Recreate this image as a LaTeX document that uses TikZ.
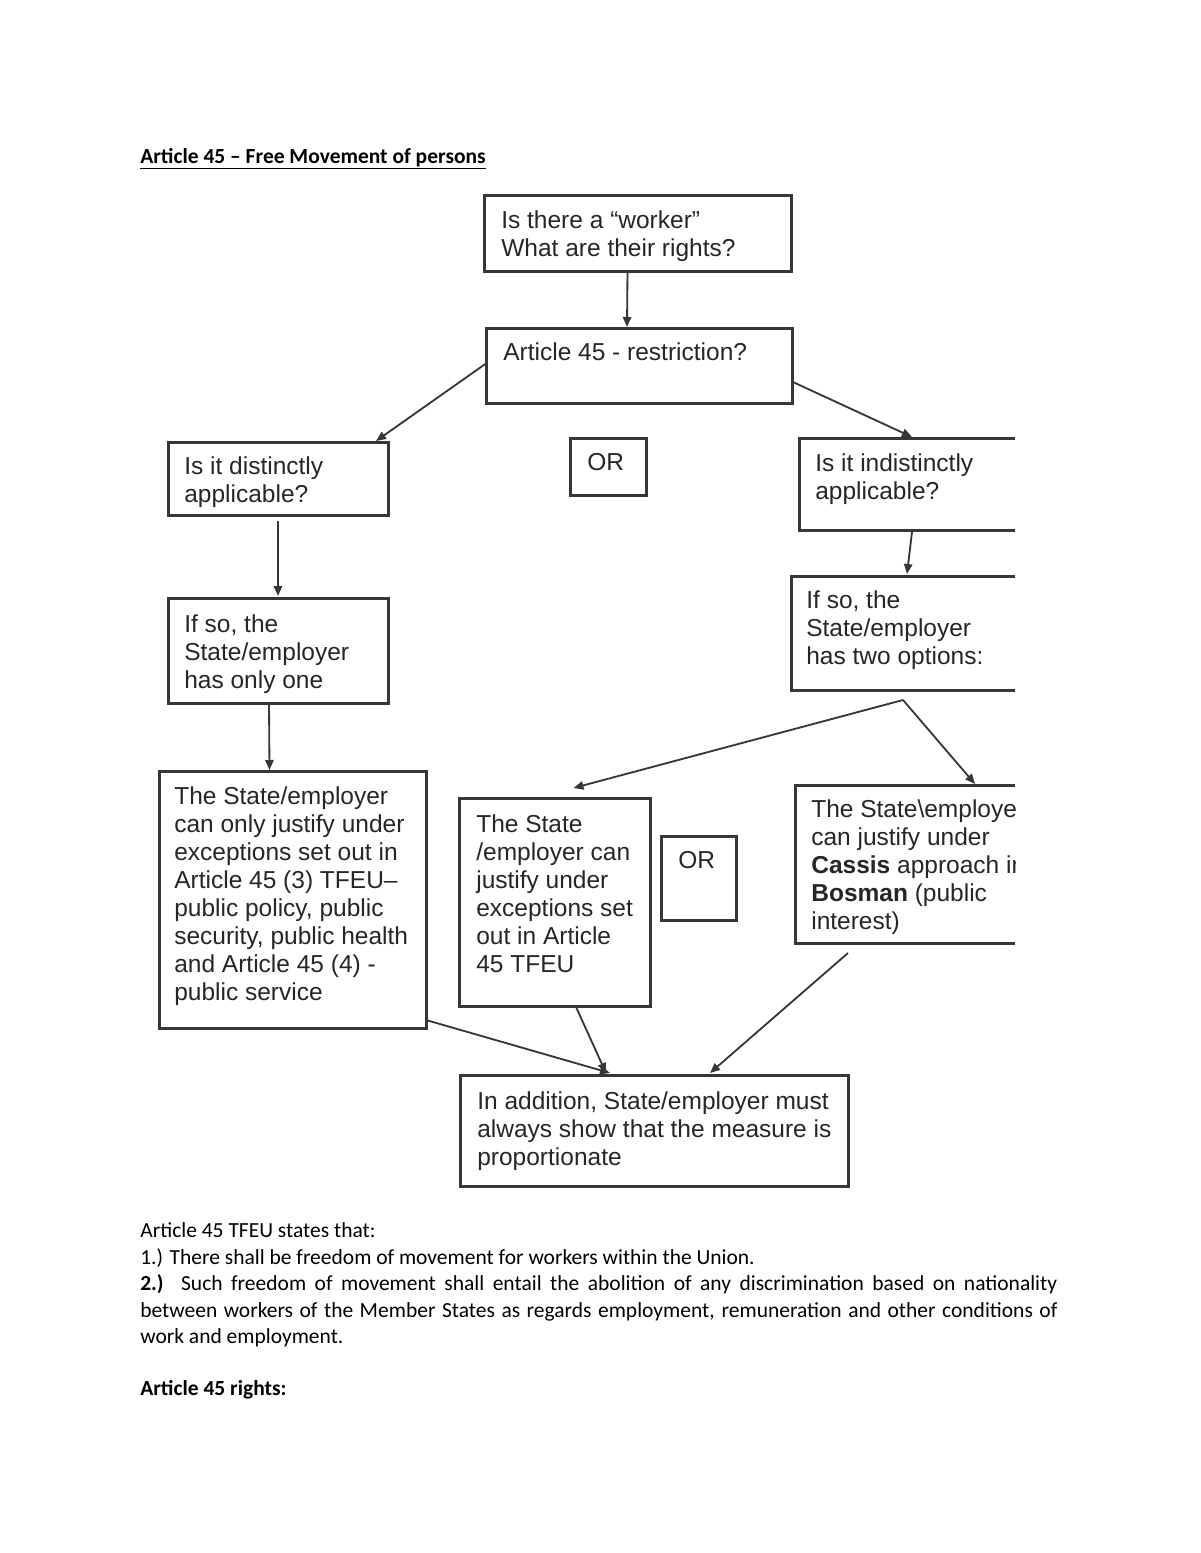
\documentclass[tikz,border=0pt]{standalone}
\usepackage{fontspec}
\setmainfont{Carlito}
\newfontfamily\arialf{Liberation Sans}
\usetikzlibrary{arrows.meta,calc}
\definecolor{boxline}{RGB}{55,55,55}
\definecolor{txtc}{RGB}{38,38,38}
\begin{document}
\begin{tikzpicture}[x=0.6pt,y=-0.6pt,
  bx/.style n args={2}{minimum width=#1*0.6pt, minimum height=#2*0.6pt},
  frame/.style={rectangle, draw=boxline, line width=1.8pt, inner sep=0pt, outer sep=0pt, anchor=north west},
  ghost/.style={rectangle, inner sep=0pt, outer sep=0pt, anchor=north west},
  edgeline/.style={draw=boxline, line width=1.8pt},
  txt/.style={anchor=north west, inner sep=0pt, align=left, text=txtc, font=\arialf\fontsize{14.7pt}{16.8pt}\selectfont},
  conn/.style={draw=boxline, line width=1.1pt, -{Triangle[length=6pt,width=5pt]}},
  body/.style={anchor=base west, inner sep=0pt, font=\fontsize{12.9pt}{15.9pt}\selectfont}
]
\useasboundingbox (0,0) rectangle (1200,1553);
\fill[white] (0,0) rectangle (1200,1553);

% boxes
\node[frame, bx={307}{76}] (w) at (484,195) {};
\node[frame, bx={306}{75}] (r) at (486,328) {};
\node[frame, bx={220}{73}] (d) at (168,442) {};
\node[frame, bx={76}{57}] (o1) at (570,438) {};
\node[ghost, bx={216}{92}] (i) at (799,438) {};
\node[frame, bx={220}{105}] (s1) at (168,598) {};
\node[ghost, bx={224}{114}] (s2) at (791,576) {};
\node[frame, bx={267}{257}] (bl) at (159,771) {};
\node[frame, bx={191}{208}] (m) at (459,798) {};
\node[frame, bx={75}{84}] (o2) at (661,836) {};
\node[ghost, bx={220}{158}] (c) at (795,785) {};
\node[frame, bx={388}{111}] (b) at (460,1075) {};

% truncated right-hand boxes (cut at the right edge)
\draw[edgeline] (i.north east) -- (i.north west) -- (i.south west) -- (i.south east);
\draw[edgeline] (s2.north east) -- (s2.north west) -- (s2.south west) -- (s2.south east);
\draw[edgeline] (c.north east) -- (c.north west) -- (c.south west) -- (c.south east);

% box texts
\node[txt] (wt) at (501,210) {Is there a “worker”\\What are their rights?};
\node[txt] (rt) at (503,342) {Article 45 - restriction?};
\node[txt] (dt) at (184,456) {Is it distinctly\\applicable?};
\node[txt] (o1t) at (587,453) {OR};
\node[txt] (s1t) at (184,614) {If so, the\\State/employer\\has only one};
\node[txt] (blt) at (174,786) {The State/employer\\can only justify under\\exceptions set out in\\Article 45 (3) TFEU–\\public policy, public\\security, public health\\and Article 45 (4) -\\public service};
\node[txt] (mt) at (476,814) {The State\\/employer can\\justify under\\exceptions set\\out in Article\\45 TFEU};
\node[txt] (o2t) at (678,851) {OR};
\node[txt] (bt) at (477,1091) {In addition, State/employer must\\always show that the measure is\\proportionate};
\begin{scope}
\clip (0,0) rectangle (1015,1553);
\node[txt] (it) at (815,453) {Is it indistinctly\\applicable?};
\node[txt] (s2t) at (806,590) {If so, the\\State/employer\\has two options:};
\node[txt] (ct) at (811,799) {The State\textbackslash employer\\can justify under\\\textbf{Cassis} approach in\\\textbf{Bosman} (public\\interest)};
\end{scope}

% connectors
\draw[conn] ($(w.south)+(-10,0)$) -- ($(r.north)+(-12,-1)$);
\draw[conn] ($(r.west)+(0,-2)$) -- ($(d.north east)+(-12,-1)$);
\draw[conn] ($(r.east)+(2,17)$) -- ($(i.north west)+(113,-1)$);
\draw[conn] ($(d.south)+(0,6)$) -- ($(s1.north)+(0,-2)$);
\draw[conn] ($(s1.south)+(-9,0)$) -- ($(bl.north)+(-23,-1)$);
\draw[conn] ($(i.south west)+(113,2)$) -- ($(s2.north west)+(116,-2)$);
\coordinate (fork) at ($(s2.south west)+(112,10)$);
\draw[conn] (fork) -- ($(m.north)+(19,-10)$);
\draw[conn] (fork) -- ($(c.north west)+(180,-1)$);
\draw[conn] ($(bl.south east)+(0,-8)$) -- ($(b.north west)+(150,-2)$);
\draw[conn] ($(m.south)+(22,2)$) -- ($(b.north west)+(146,-2)$);
\draw[conn] ($(c.south west)+(53,10)$) -- ($(b.north west)+(250,-2)$);

% document text
\node[body] (title) at (140,163) {\textbf{\underline{Article 45 – Free Movement of persons}}};
\node[body] (p0) at (140,1237) {Article 45 TFEU states that:};
\node[body] (p1) at (140,1264) {1.) There shall be freedom of movement for workers within the Union.};
\node[body] (p2) at (140,1290) {\makebox[550.2pt][s]{\textbf{2.)} Such freedom of movement shall entail the abolition of any discrimination based on nationality}};
\node[body] (p3) at (140,1317) {\makebox[550.2pt][s]{between workers of the Member States as regards employment, remuneration and other conditions of}};
\node[body] (p4) at (140,1343) {work and employment.};
\node[body] (p5) at (140,1395) {\textbf{Article 45 rights:}};
\end{tikzpicture}
\end{document}
